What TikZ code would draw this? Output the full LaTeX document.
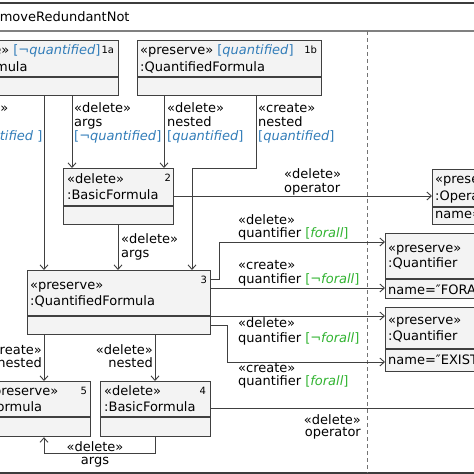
\documentclass[tikz,border=0pt]{standalone}
\usepackage{fontspec}
\setmainfont{DejaVu Sans}
\usetikzlibrary{arrows.meta}
\definecolor{qblue}{RGB}{50,125,185}
\definecolor{fgreen}{RGB}{50,180,50}
\definecolor{boxfill}{RGB}{243,243,243}
\definecolor{lineg}{RGB}{64,64,64}
\definecolor{frameg}{RGB}{60,60,60}
\newcommand\mylf{\fontsize{13}{16}\selectfont}
\newcommand\qb[1]{\textcolor{qblue}{[\textit{#1}]}}
\newcommand\fg[1]{\textcolor{fgreen}{[\textit{#1}]}}
\begin{document}
\begin{tikzpicture}[x=1pt,y=-1pt,
  box/.style={draw=lineg, line width=1.2pt, fill=boxfill, rectangle, inner sep=0pt, anchor=north west},
  sepline/.style={draw=lineg, line width=1.2pt},
  txt/.style={anchor=base west, inner sep=0pt, font=\mylf},
  txtr/.style={anchor=base east, inner sep=0pt, font=\mylf},
  txtc/.style={anchor=base, inner sep=0pt, font=\mylf},
  num/.style={anchor=north east, inner sep=0pt, font=\fontsize{10}{12}\selectfont},
  conn/.style={draw=lineg, line width=0.9pt, -{Straight Barb[length=4.5pt,width=8pt]}}]
\useasboundingbox (0,0) rectangle (474,474);
\clip (0,0) rectangle (474,474);
\fill[white] (0,0) rectangle (474,474);
% frame
\draw[draw=frameg, line width=1.8pt] (-100,3) rectangle (600,473);
\draw[draw=gray, line width=1.2pt] (-100,31) -- (600,31);
\node[txt] (title) at (-13.5,21) {removeRedundantNot};
\draw[draw=gray!90!black, line width=1pt, dash pattern=on 4pt off 3pt] (367,31) -- (367,473);
% boxes
\node[box, minimum width=185, minimum height=55] (b1a) at (-67,40) {};
\draw[sepline] (b1a.west |- 0,77) -- (b1a.east |- 0,77);
\node[txt] (b1al1) at (-64,54.5) {«preserve» \qb{¬quantified}};
\node[txt] (b1al2) at (-64,71.5) {:BasicFormula};
\node[num] (n1a) at ([xshift=-5pt,yshift=-6pt]b1a.north east) {1a};

\node[box, minimum width=184, minimum height=55] (b1b) at (137,40) {};
\draw[sepline] (b1b.west |- 0,77) -- (b1b.east |- 0,77);
\node[txt] (b1bl1) at (140,54.5) {«preserve» \qb{quantified}};
\node[txt] (b1bl2) at (140,71.5) {:QuantifiedFormula};
\node[num] (n1b) at ([xshift=-5pt,yshift=-6pt]b1b.north east) {1b};

\node[box, minimum width=110, minimum height=56] (b2) at (63,168) {};
\draw[sepline] (b2.west |- 0,206) -- (b2.east |- 0,206);
\node[txt] (b2l1) at (67,183.5) {«delete»};
\node[txt] (b2l2) at (67,199.5) {:BasicFormula};
\node[num] (n2) at ([xshift=-3pt,yshift=-6pt]b2.north east) {2};

\node[box, minimum width=183, minimum height=64] (b3) at (27,270) {};
\draw[sepline] (b3.west |- 0,316) -- (b3.east |- 0,316);
\node[txt] (b3l1) at (30,289.5) {«preserve»};
\node[txt] (b3l2) at (30,305.5) {:QuantifiedFormula};
\node[num] (n3) at ([xshift=-4pt,yshift=-6pt]b3.north east) {3};

\node[box, minimum width=110, minimum height=55] (b4) at (100,381) {};
\draw[sepline] (b4.west |- 0,417) -- (b4.east |- 0,417);
\node[txt] (b4l1) at (104,395.5) {«delete»};
\node[txt] (b4l2) at (104,411.5) {:BasicFormula};
\node[num] (n4) at ([xshift=-5pt,yshift=-6pt]b4.north east) {4};

\node[box, minimum width=108, minimum height=55] (b5) at (-18,381) {};
\draw[sepline] (b5.west |- 0,417) -- (b5.east |- 0,417);
\node[txt] (b5l1) at (-15,395.5) {«preserve»};
\node[txt] (b5l2) at (-15,411.5) {:Formula};
\node[num] (n5) at ([xshift=-4pt,yshift=-6pt]b5.north east) {5};

\node[box, minimum width=120, minimum height=55] (bop) at (432,169) {};
\draw[sepline] (bop.west |- 0,207) -- (bop.east |- 0,207);
\node[txt] (bopl1) at (435,183) {«preserve»};
\node[txt] (bopl2) at (435,200.5) {:Operator};
\node[txt] (bopl3) at (435,218) {name=″NOT″};

\node[box, minimum width=130, minimum height=65] (bq1) at (385,233) {};
\draw[sepline] (bq1.west |- 0,279) -- (bq1.east |- 0,279);
\node[txt] (bq1l1) at (388,252) {«preserve»};
\node[txt] (bq1l2) at (388,267) {:Quantifier};
\node[txt] (bq1l3) at (388,294.5) {name=″FORALL″};

\node[box, minimum width=130, minimum height=64] (bq2) at (385,307) {};
\draw[sepline] (bq2.west |- 0,349) -- (bq2.east |- 0,349);
\node[txt] (bq2l1) at (388,324.5) {«preserve»};
\node[txt] (bq2l2) at (388,340.5) {:Quantifier};
\node[txt] (bq2l3) at (388,364.5) {name=″EXISTS″};

\coordinate (offR) at (490,408);

% connectors
\draw[conn] (b1a.south -| 44,0) -- (b3.north -| 44,0);
\node[txt] (c1a) at (-49,112.5) {«create»};
\node[txt] (c1b) at (-49,126.5) {args};
\node[txt] (c1c) at (-49,140.5) {\qb{¬quantified }};

\draw[conn] (b1a.south -| 72,0) -- (b2.north -| 72,0);
\node[txt] (c2a) at (74,112.5) {«delete»};
\node[txt] (c2b) at (74,126.5) {args};
\node[txt] (c2c) at (74,140.5) {\qb{¬quantified}};

\draw[conn] (b1b.south -| 164,0) -- (b2.north -| 164,0);
\node[txt] (c3a) at (167,112.5) {«delete»};
\node[txt] (c3b) at (167,126.5) {nested};
\node[txt] (c3c) at (167,140.5) {\qb{quantified}};

\draw[conn] (b1b.south -| 256,0) -- (256,168) -- (192,168) -- (b3.north -| 192,0);
\node[txt] (c4a) at (258,112.5) {«create»};
\node[txt] (c4b) at (258,126.5) {nested};
\node[txt] (c4c) at (258,140.5) {\qb{quantified}};

\draw[conn] (b2.south -| 118,0) -- (b3.north -| 118,0);
\node[txt] (c5a) at (121,243.5) {«delete»};
\node[txt] (c5b) at (121,257.5) {args};

\draw[conn] (b2.east |- 0,196) -- (bop.west |- 0,196);
\node[txt] (c6a) at (284,178.5) {«delete»};
\node[txt] (c6b) at (284,192.5) {operator};

\draw[conn] (b3.east |- 0,279) -- (219,279) -- (219,242) -- (bq1.west |- 0,242);
\node[txt] (c7a) at (238,224.5) {«delete»};
\node[txt] (c7b) at (238,237) {quantifier \fg{forall}};

\draw[conn] (b3.east |- 0,288) -- (bq1.west |- 0,288);
\node[txt] (c8a) at (238,269.5) {«create»};
\node[txt] (c8b) at (238,283) {quantifier \fg{¬forall}};

\draw[conn] (b3.east |- 0,316) -- (bq2.west |- 0,316);
\node[txt] (c9a) at (238,327.5) {«delete»};
\node[txt] (c9b) at (238,342) {quantifier \fg{¬forall}};

\draw[conn] (b3.east |- 0,325) -- (227,325) -- (227,362) -- (bq2.west |- 0,362);
\node[txt] (c10a) at (238,372.5) {«create»};
\node[txt] (c10b) at (238,385) {quantifier \fg{forall}};

\draw[conn] (b3.south -| 44,0) -- (b5.north -| 44,0);
\node[txtr] (c11a) at (42,354.5) {«create»};
\node[txtr] (c11b) at (42,367.5) {nested};

\draw[conn] (b3.south -| 155,0) -- (b4.north -| 155,0);
\node[txtr] (c12a) at (153,354.5) {«delete»};
\node[txtr] (c12b) at (153,367.5) {nested};

\draw[conn] (b4.south -| 155,0) -- (155,453) -- (44,453) -- (b5.south -| 44,0);
\node[txtc] (c13a) at (95,451) {«delete»};
\node[txtc] (c13b) at (95,464) {args};

\draw[conn] (b4.east |- 0,408) -- (offR);
\node[txtr] (c14a) at (361,424.5) {«delete»};
\node[txtr] (c14b) at (361,436) {operator};
\end{tikzpicture}
\end{document}
